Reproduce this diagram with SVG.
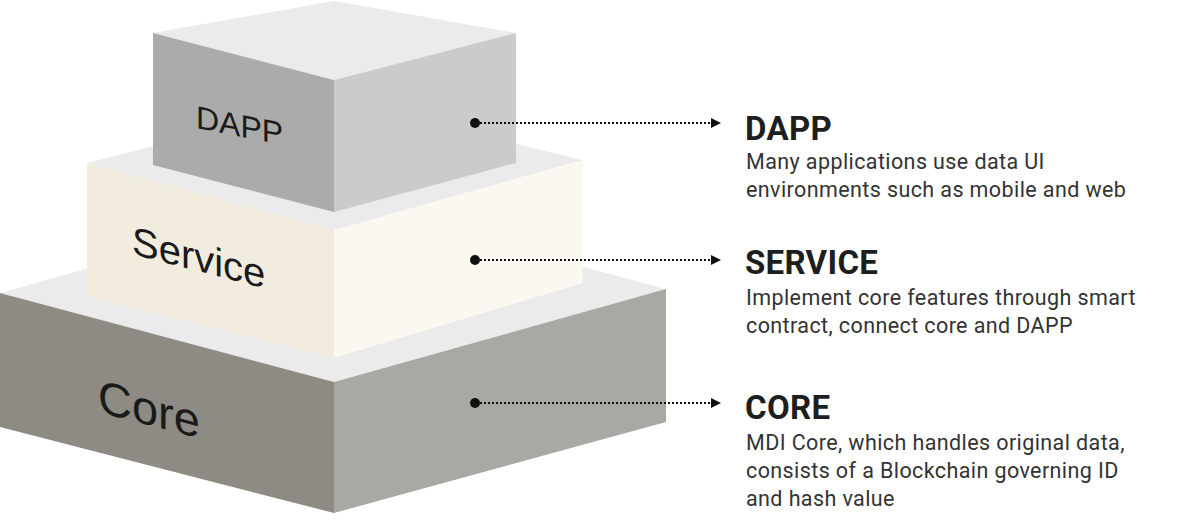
<svg xmlns="http://www.w3.org/2000/svg" width="1200" height="525" viewBox="0 0 1200 525">
<defs>
<style>
.t{font-family:Roboto,"Liberation Sans",sans-serif;font-weight:bold;font-size:33px;fill:#1e1e1e;letter-spacing:0.3px}
.b{font-family:Roboto,"Liberation Sans",sans-serif;font-size:21.5px;fill:#333;letter-spacing:0.4px}
.l{font-family:"Liberation Sans",Arial,sans-serif;fill:#1a1a1a}
.c{stroke:#111;stroke-width:2.2;stroke-dasharray:2 2;fill:none}
.top{fill:#ebebeb}
</style>
<marker id="ah" viewBox="0 0 10 10" refX="9" refY="5" markerWidth="10" markerHeight="10" markerUnits="userSpaceOnUse" orient="auto"><path d="M0,0L10,5L0,10z" fill="#111"/></marker>
</defs>
<rect width="1200" height="525" fill="#fff"/>
<g id="core">
<polygon class="top" points="0,293 334,200 666,289 334,382"/>
<polygon points="0,293 334,382 334,513 0,427" fill="#8d8b83"/>
<polygon points="334,382 666,289 666,422 334,513" fill="#a9a8a3"/>
<text class="l" font-size="47" transform="translate(98,412) skewY(14.5)">Core</text>
</g>
<g id="service">
<polygon class="top" points="87,163 334,100 583,160 334,230"/>
<polygon points="87,163 334,230 334,358 87,297" fill="#f1ecdd"/>
<polygon points="334,230 583,160 583,283 334,358" fill="#faf8f0"/>
<text class="l" font-size="40" transform="translate(132,254) skewY(14.5)">Service</text>
</g>
<g id="dapp">
<polygon class="top" points="153,33 334,1 516,33 334,80"/>
<polygon points="153,33 334,80 334,212 153,165" fill="#ababab"/>
<polygon points="334,80 516,33 516,163 334,212" fill="#cbcbcb"/>
<text class="l" font-size="32" transform="translate(196,128) skewY(11)">DAPP</text>
</g>
<g id="connectors">
<circle cx="475" cy="123" r="5" fill="#111"/>
<path class="c" d="M480,123H720" marker-end="url(#ah)"/>
<circle cx="475" cy="260" r="5" fill="#111"/>
<path class="c" d="M480,260H720" marker-end="url(#ah)"/>
<circle cx="475" cy="403" r="5" fill="#111"/>
<path class="c" d="M480,403H720" marker-end="url(#ah)"/>
</g>
<g id="labels">
<text class="t" x="745" y="140">DAPP</text>
<text class="b" x="746" y="169">Many applications use data UI</text>
<text class="b" x="746" y="197">environments such as mobile and web</text>
<text class="t" x="745" y="274">SERVICE</text>
<text class="b" x="746" y="305">Implement core features through smart</text>
<text class="b" x="746" y="333">contract, connect core and DAPP</text>
<text class="t" x="745" y="419">CORE</text>
<text class="b" x="746" y="450">MDI Core, which handles original data,</text>
<text class="b" x="746" y="478">consists of a Blockchain governing ID</text>
<text class="b" x="746" y="506">and hash value</text>
</g>
</svg>
